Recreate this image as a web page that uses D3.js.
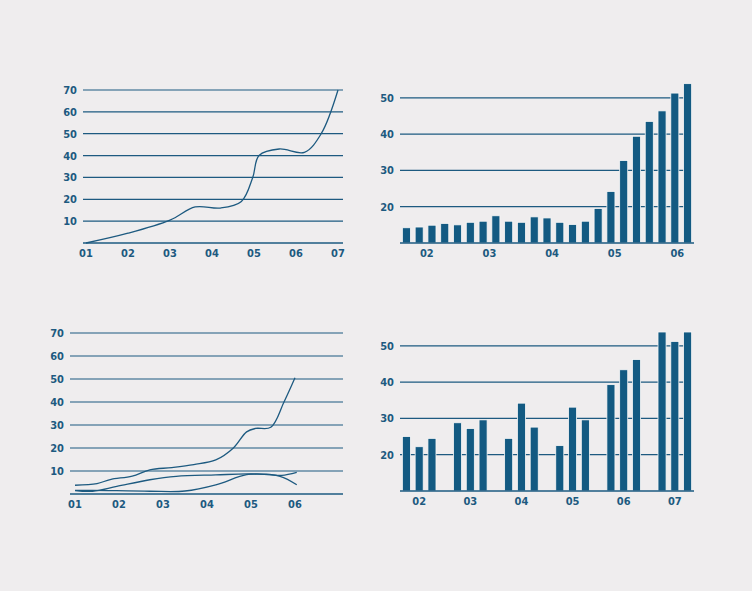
<!DOCTYPE html>
<html><head><meta charset="utf-8">
<script src="https://cdn.jsdelivr.net/npm/d3@7"></script>
<style>
body{margin:0;background:#efedee;}
text{font-family:"Liberation Sans Narrow","DejaVu Sans Condensed",sans-serif;font-weight:bold;font-size:11px;fill:#1d5a80;}
</style></head><body>
<svg id="chart" width="752" height="591"></svg>
<script>
// panel 1: single line
var line1 = [[1,0],[2,4.5],[3,10.5],[3.6,16.5],[4.2,16],[4.7,19],[4.97,30],[5.12,40],[5.6,43],[6.2,41.5],[6.6,50],[7,70]];
var xLabels1 = ["01","02","03","04","05","06","07"];
var yTicks1 = [10,20,30,40,50,60,70];

// panel 2: monthly bars
var bars2 = [14.2,14.4,14.9,15.4,15.0,15.7,16.0,17.5,16.0,15.7,17.2,16.9,15.7,15.1,16.0,19.5,24.2,32.7,39.4,43.5,46.4,51.3,53.9];
var xLabels2 = ["02","03","04","05","06"];
var xLabelAt2 = [1.6,6.5,11.4,16.3,21.2];
var yTicks2 = [20,30,40,50];

// panel 3: three lines
var lines3 = [
  [[1,3.8],[1.5,4.5],[1.8,6.3],[2.3,7.8],[2.7,10.5],[3.2,11.5],[3.7,12.8],[4.2,14.8],[4.6,20],[4.9,27],[5.1,28.5],[5.45,29],[5.75,40],[6,50.5]],
  [[1,1.5],[1.4,1.2],[1.95,3.3],[2.7,6.2],[3.3,7.7],[4.2,8.3],[5.0,8.7],[5.66,7.7],[6.04,4]],
  [[1,1.6],[1.4,1.6],[2.7,1.2],[3.5,1.3],[4.2,4],[4.9,8.4],[5.36,8.6],[5.7,8.1],[6.04,9.4]]
];
var xLabels3 = ["01","02","03","04","05","06"];
var yTicks3 = [10,20,30,40,50,60,70];

// panel 4: grouped bars, 3 per year
var years4 = ["02","03","04","05","06","07"];
var bars4 = [[25.0,22.2,24.5],[28.8,27.2,29.6],[24.5,34.2,27.6],[22.5,33.1,29.6],[39.3,43.4,46.2],[53.8,51.2,53.8]];
var yTicks4 = [20,30,40,50];

var ink = "#1d5a80", barFill = "#135a82";
var svg = d3.select("#chart");
svg.append("rect").attr("width",752).attr("height",591).attr("fill","#efedee");

function grid(g, y, ticks, x0, x1){
  g.selectAll(".grid").data(ticks).enter().append("line")
    .attr("x1",x0).attr("x2",x1)
    .attr("y1",d=>y(d)).attr("y2",d=>y(d))
    .attr("stroke",ink).attr("stroke-width",1.2);
  g.selectAll(".ylab").data(ticks).enter().append("text")
    .attr("x",x0-6).attr("y",d=>y(d)+4).attr("text-anchor","end").text(d=>d);
}

function linePanel(series, labels, ticks, box){
  var g = svg.append("g");
  var x = d3.scaleLinear().domain([1,labels.length]).range([box.x0, box.x1]);
  var y = d3.scaleLinear().domain([0,70]).range([box.yb, box.yt]);
  grid(g, y, ticks, box.gx0, box.gx1);
  g.append("line").attr("x1",box.gx0).attr("x2",box.gx1).attr("y1",y(0)).attr("y2",y(0))
    .attr("stroke",ink).attr("stroke-width",1.5);
  var ln = d3.line().x(d=>x(d[0])).y(d=>y(d[1])).curve(d3.curveCatmullRom.alpha(0.5));
  series.forEach(function(s){
    g.append("path").attr("d",ln(s)).attr("fill","none").attr("stroke",ink).attr("stroke-width",1.3);
  });
  g.selectAll(".xlab").data(labels).enter().append("text")
    .attr("x",(d,i)=>x(i+1)).attr("y",y(0)+14).attr("text-anchor","middle").text(d=>d);
}

linePanel([line1], xLabels1, yTicks1, {x0:86, x1:338, yt:90, yb:243, gx0:83, gx1:343});
linePanel(lines3, xLabels3, yTicks3, {x0:75, x1:295, yt:333, yb:494, gx0:70, gx1:343});

function barPanel(slots, nSlots, labels, labelAt, ticks, box){
  var g = svg.append("g");
  var x = d3.scaleLinear().domain([-0.5, nSlots-0.5]).range([box.x0, box.x1]);
  var y = d3.scaleLinear().domain([10,60]).range([box.yb, box.yb-5*36.3]);
  grid(g, y, ticks, box.x0, box.x1-7);
  var w = (x(1)-x(0))*0.63;
  g.selectAll(".bar").data(slots).enter().append("rect")
    .attr("x",d=>x(d.i)-w/2).attr("width",w)
    .attr("y",d=>y(d.v)).attr("height",d=>y(10)-y(d.v))
    .attr("fill",barFill).attr("stroke","#f7f7f7").attr("stroke-width",0.8);
  g.append("line").attr("x1",box.x0).attr("x2",box.x1).attr("y1",y(10)).attr("y2",y(10))
    .attr("stroke",ink).attr("stroke-width",1.5);
  g.selectAll(".xlab").data(labels).enter().append("text")
    .attr("x",(d,i)=>x(labelAt[i])).attr("y",y(10)+14).attr("text-anchor","middle").text(d=>d);
}

barPanel(bars2.map((v,i)=>({i:i,v:v})), bars2.length, xLabels2, xLabelAt2, yTicks2,
  {x0:400, x1:694, yb:243});

var slots4 = [];
bars4.forEach(function(grp,gi){ grp.forEach(function(v,j){ slots4.push({i:gi*4+j, v:v}); }); });
barPanel(slots4, 23, years4, years4.map((d,i)=>i*4+1), yTicks4, {x0:400, x1:694, yb:491});
</script></body></html>
